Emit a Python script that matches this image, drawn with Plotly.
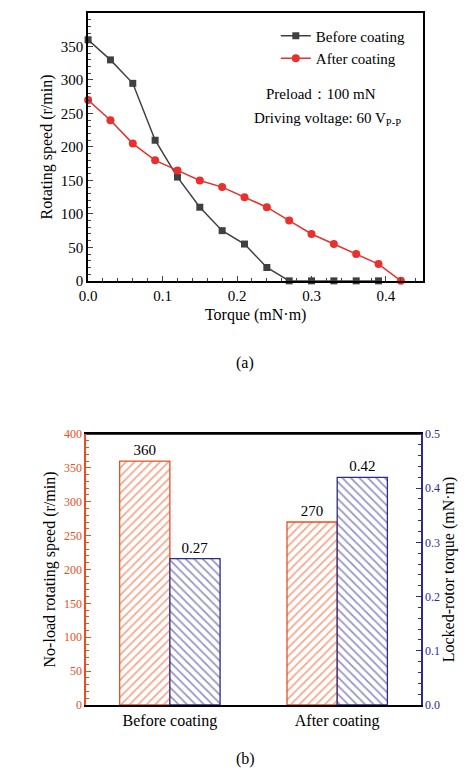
import plotly.graph_objects as go

torque_before = [0, 0.03, 0.06, 0.09, 0.12, 0.15, 0.18, 0.21, 0.24, 0.27, 0.30, 0.33, 0.36, 0.39]
speed_before = [360, 330, 295, 210, 155, 110, 75, 55, 20, 0, 0, 0, 0, 0]
torque_after = [0, 0.03, 0.06, 0.09, 0.12, 0.15, 0.18, 0.21, 0.24, 0.27, 0.30, 0.33, 0.36, 0.39, 0.42]
speed_after = [270, 240, 205, 180, 165, 150, 140, 125, 110, 90, 70, 55, 40, 25, 0]
categories = ["Before coating", "After coating"]
noload_speed = [360, 270]
locked_torque = [0.27, 0.42]

F = "Liberation Serif"
ORANGE = "#e8501e"
NAVY = "#2b2b8c"
fig = go.Figure()
fig.add_trace(go.Scatter(x=torque_before, y=speed_before, mode="lines+markers", name="Before coating",
                         line=dict(color="#404040", width=1.5), marker=dict(symbol="square", size=7, color="#404040"),
                         xaxis="x", yaxis="y", cliponaxis=False))
fig.add_trace(go.Scatter(x=torque_after, y=speed_after, mode="lines+markers", name="After coating",
                         line=dict(color="#e8302e", width=1.5), marker=dict(symbol="circle", size=8, color="#e8302e"),
                         xaxis="x", yaxis="y", cliponaxis=False))
fig.add_trace(go.Bar(x=categories, y=noload_speed, offset=-0.3, width=0.3, xaxis="x2", yaxis="y2",
                     marker=dict(color="white", line=dict(color=ORANGE, width=1.3),
                                 pattern=dict(shape="/", fgcolor=ORANGE, size=6, solidity=0.3)),
                     text=[str(v) for v in noload_speed], textposition="outside",
                     textfont=dict(family=F, size=15, color="black"), showlegend=False, cliponaxis=False))
fig.add_trace(go.Bar(x=categories, y=locked_torque, offset=0, width=0.3, xaxis="x2", yaxis="y3",
                     marker=dict(color="white", line=dict(color=NAVY, width=1.3),
                                 pattern=dict(shape="\\", fgcolor=NAVY, size=6, solidity=0.3)),
                     text=[str(v) for v in locked_torque], textposition="outside",
                     textfont=dict(family=F, size=15, color="black"), showlegend=False, cliponaxis=False))

ax = dict(showline=True, linecolor="black", linewidth=1.5, mirror=True, ticks="inside", ticklen=5,
          showgrid=False, zeroline=False, tickfont=dict(family=F, size=15, color="black"),
          minor=dict(ticks="inside", ticklen=3))
fig.update_layout(
    width=474, height=773, margin=dict(l=0, r=0, t=0, b=0, autoexpand=False),
    plot_bgcolor="white", paper_bgcolor="white",
    font=dict(family=F, color="black"),
    xaxis=dict(ax, domain=[0.169, 0.876], anchor="y", range=[0, 0.45], dtick=0.1, tickformat=".1f",
               title=dict(text="Torque (mN·m)", font=dict(family=F, size=16), standoff=6)),
    yaxis=dict(ax, domain=[0.647, 0.9935], anchor="x", range=[0, 400], dtick=50,
               title=dict(text="Rotating speed (r/min)", font=dict(family=F, size=16), standoff=4)),
    xaxis2=dict(ax, domain=[0.165, 0.871], anchor="y2", range=[-0.5, 1.5], type="category",
                tickfont=dict(family=F, size=16), ticks="", minor=dict(ticks="")),
    yaxis2=dict(ax, domain=[0.0983, 0.449], anchor="x2", range=[0, 400], dtick=50, linecolor=ORANGE,
                tickfont=dict(family=F, size=12, color=ORANGE), tickcolor=ORANGE,
                minor=dict(ticks="inside", ticklen=3, tickcolor=ORANGE), mirror=False,
                title=dict(text="No-load rotating speed (r/min)", font=dict(family=F, size=16), standoff=4)),
    yaxis3=dict(ax, overlaying="y2", side="right", anchor="x2", range=[0, 0.5], dtick=0.1, tickformat=".1f",
                linecolor=NAVY, tickcolor=NAVY, mirror=False,
                tickfont=dict(family=F, size=12, color=NAVY), minor=dict(ticks="inside", ticklen=3, tickcolor=NAVY),
                title=dict(text="Locked-rotor torque (mN·m)", font=dict(family=F, size=16), standoff=4)),
    legend=dict(x=0.565, y=0.985, xanchor="left", yanchor="top", bgcolor="rgba(0,0,0,0)",
                font=dict(family=F, size=15), tracegroupgap=0, itemwidth=30),
    annotations=[
        dict(text="Preload：100 mN", x=0.66, y=1 - 76 / 773, xref="paper", yref="paper", showarrow=False,
             xanchor="center", font=dict(family=F, size=15)),
        dict(text="Driving voltage: 60 V<sub>P-P</sub>", x=0.675, y=1 - 100 / 773, xref="paper", yref="paper",
             showarrow=False, xanchor="center", font=dict(family=F, size=15)),
        dict(text="(a)", x=0.5, y=1 - 355 / 773, xref="paper", yref="paper", showarrow=False,
             font=dict(family=F, size=16)),
        dict(text="(b)", x=0.5, y=1 - 762 / 773, xref="paper", yref="paper", showarrow=False,
             font=dict(family=F, size=16)),
    ],
    shapes=[dict(type="line", xref="paper", yref="paper", x0=0.165, x1=0.871, y0=0.449, y1=0.449,
                 line=dict(color="black", width=1.5))],
)
fig.write_html("out.html")
